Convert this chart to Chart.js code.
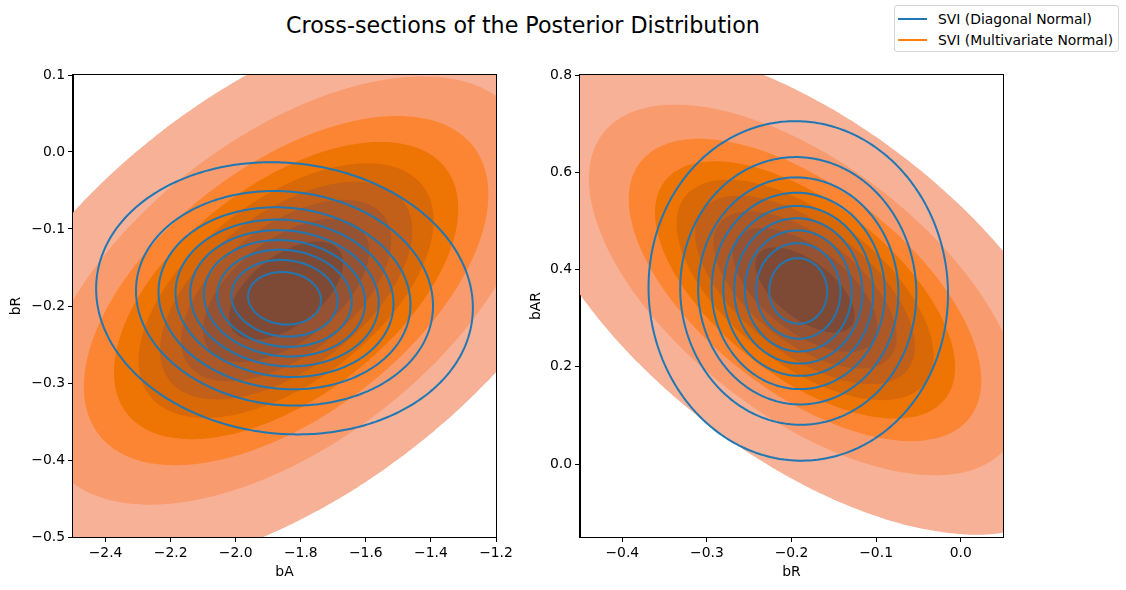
<!DOCTYPE html>
<html>
<head>
<meta charset="utf-8">
<script src="https://cdn.jsdelivr.net/npm/chart.js@4.4.1/dist/chart.umd.min.js"></script>
<style>
body { margin: 0; width: 1126px; height: 590px; overflow: hidden; background: #fff; position: relative; font-family: 'DejaVu Sans', sans-serif; }
#title { position: absolute; left: 0; top: 10px; width: 1046px; text-align: center; font-size: 22.2px; line-height: 30px; color: #000; }
#legend { position: absolute; left: 894px; top: 5px; width: 223px; height: 45px; border: 1px solid #d5d5d5; border-radius: 3px; background: #fff; }
.row { position: absolute; left: 0; height: 20px; width: 100%; }
.swatch { position: absolute; left: 3px; top: 9px; width: 29px; height: 2px; }
.label { position: absolute; left: 43px; top: 0; font-size: 13.9px; line-height: 20px; color: #000; white-space: nowrap; }
.panel { position: absolute; top: 65px; width: 530px; height: 520px; }
</style>
</head>
<body>
<div id="title">Cross-sections of the Posterior Distribution</div>
<div id="legend">
  <div class="row" style="top:3px"><div class="swatch" style="background:#1f77b4"></div><div class="label">SVI (Diagonal Normal)</div></div>
  <div class="row" style="top:24px"><div class="swatch" style="background:#ff7f0e"></div><div class="label">SVI (Multivariate Normal)</div></div>
</div>
<div class="panel" style="left:0"><canvas id="leftChart" width="530" height="520"></canvas></div>
<div class="panel" style="left:507px"><canvas id="rightChart" width="530" height="520"></canvas></div>
<script>
"use strict";

// axis ranges [xmin, xmax, ymin, ymax]
const leftRange = [-2.5, -1.2, -0.5, 0.1];
const rightRange = [-0.45, 0.05, -0.15, 0.8];

const leftXTicks = [-2.4, -2.2, -2.0, -1.8, -1.6, -1.4, -1.2];
const leftYTicks = [-0.5, -0.4, -0.3, -0.2, -0.1, 0.0, 0.1];
const rightXTicks = [-0.4, -0.3, -0.2, -0.1, 0.0];
const rightYTicks = [0.0, 0.2, 0.4, 0.6, 0.8];

// fitted normals: [meanX, meanY, sdX, sdY, corr]
const diagLeft = [-1.85, -0.19, 0.2365, 0.0722, -0.07];
const diagRight = [-0.192, 0.356, 0.0723, 0.1426, -0.02];
const mvnLeft = [-1.845, -0.18, 0.37, 0.135, 0.55];
const mvnRight = [-0.184, 0.358, 0.124, 0.185, -0.6];

// contour levels as radii in standard deviations, outer to inner
const diagLevels = [2.448, 1.930, 1.637, 1.416, 1.225, 1.047, 0.873, 0.689, 0.473];
const mvnLevels = [2.72, 2.06, 1.68, 1.43, 1.225, 1.047, 0.873, 0.689, 0.473];

const bandColors = ['#f6b197', '#f89c6f', '#fb8532', '#ee7403', '#d96907', '#c25f18', '#ac5927', '#955334', '#7f4a35'];

const font = { family: "'DejaVu Sans', sans-serif", size: 13.9 };

function ellipse(g, r) {
    const [mx, my, sx, sy, rho] = g;
    const pts = [];
    for (let i = 0; i <= 200; i++) {
        const t = i / 200 * 2 * Math.PI;
        const a = Math.cos(t), b = Math.sin(t);
        pts.push({ x: mx + r * sx * a, y: my + r * sy * (rho * a + Math.sqrt(1 - rho * rho) * b) });
    }
    return pts;
}

function fmt(v) {
    return (v < -1e-9 ? '\u2212' : '') + Math.abs(v).toFixed(1);
}

// draws the box around the axes
const frame = {
    id: 'frame',
    afterDraw(chart) {
        const { ctx, chartArea: a } = chart;
        ctx.save();
        ctx.strokeStyle = '#000';
        ctx.lineWidth = 1;
        ctx.strokeRect(Math.round(a.left) - 0.5, Math.round(a.top) - 0.5, Math.round(a.right - a.left) + 1, Math.round(a.bottom - a.top) + 1);
        ctx.restore();
    }
};

function makeDatasets(mvn, diag) {
    const sets = [];
    mvnLevels.forEach((r, k) => {
        sets.push({
            data: ellipse(mvn, r),
            showLine: true,
            tension: 0.1,
            fill: 'shape',
            backgroundColor: bandColors[k],
            borderColor: 'rgba(0,0,0,0)',
            borderWidth: 0,
            pointRadius: 0,
            order: 20 - k
        });
    });
    diagLevels.forEach(r => {
        sets.push({
            data: ellipse(diag, r),
            showLine: true,
            tension: 0.1,
            fill: false,
            borderColor: '#1f77b4',
            borderWidth: 2,
            pointRadius: 0,
            order: 1
        });
    });
    return sets;
}

function axis(min, max, ticks, title, titlePad, horizontal) {
    return {
        type: 'linear',
        min: min,
        max: max,
        afterBuildTicks: s => { s.ticks = ticks.map(v => ({ value: v })); },
        afterFit: s => {
            if (horizontal) s.height = 48; else s.width = 73;
            s.paddingLeft = 0; s.paddingRight = 0; s.paddingTop = 0; s.paddingBottom = 0;
        },
        ticks: { font: font, color: '#000', padding: 3, callback: fmt, maxRotation: 0, autoSkip: false },
        grid: { display: true, drawOnChartArea: false, drawTicks: true, tickLength: 5, tickColor: '#000', tickWidth: 1 },
        border: { display: true, color: '#000', width: 1 },
        title: { display: true, text: title, font: font, color: '#000', padding: titlePad }
    };
}

function makePanel(id, range, xTicks, yTicks, xTitle, yTitle, yPad, mvn, diag) {
    new Chart(id, {
        type: 'scatter',
        data: { datasets: makeDatasets(mvn, diag) },
        options: {
            responsive: false,
            animation: false,
            devicePixelRatio: 1,
            events: [],
            layout: { padding: { top: 10, right: 34, left: 0, bottom: 0 } },
            plugins: { legend: { display: false }, tooltip: { enabled: false } },
            scales: {
                x: axis(range[0], range[1], xTicks, xTitle, { top: 0, bottom: 4.7 }, true),
                y: axis(range[2], range[3], yTicks, yTitle, { top: yPad, bottom: 0 }, false)
            }
        },
        plugins: [frame]
    });
}

makePanel('leftChart', leftRange, leftXTicks, leftYTicks, 'bA', 'bR', 7.7, mvnLeft, diagLeft);
makePanel('rightChart', rightRange, rightXTicks, rightYTicks, 'bR', 'bAR', 20.7, mvnRight, diagRight);
</script>
</body>
</html>
